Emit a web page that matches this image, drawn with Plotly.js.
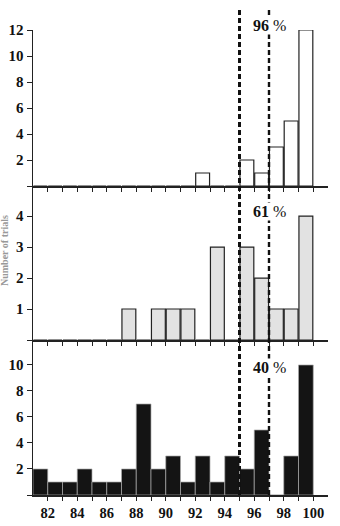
<!DOCTYPE html>
<html>
<head>
<meta charset="utf-8">
<script src="https://cdn.plot.ly/plotly-3.0.1.min.js"></script>
<style>html,body{margin:0;padding:0;background:#fff;}#chart{width:340px;height:526px;}</style>
</head>
<body>
<div id="chart"></div>
<script>
// Histogram bins (lower edge of each 1-unit bin)
const binStart = [81,82,83,84,85,86,87,88,89,90,91,92,93,94,95,96,97,98,99];
// Counts per bin, top / middle / bottom panels
const countsTop    = [0,0,0,0,0,0,0,0,0,0,0,1,0,0,2,1,3,5,12];
const countsMiddle = [0,0,0,0,0,0,1,0,1,1,1,0,3,0,3,2,1,1,4];
const countsBottom = [2,1,1,2,1,1,2,7,2,3,1,3,1,3,2,5,0,3,10];
// Threshold lines and percentage labels
const thresholds = [95, 97];
const pctLabels = ['96', '61', '40'];
// Tick labels
const xTickVals = [82,83,84,85,86,87,88,89,90,91,92,93,94,95,96,97,98,99,100];
const xTickText = ['82','','84','','86','','88','','90','','92','','94','','96','','98','','100'];
const yTopVals = [0,2,4,6,8,10,12];
const yTopText = ['','2','4','6','8','10','12'];
const yMidVals = [0,1,2,3,4];
const yMidText = ['','1','2','3','4'];
const yBotVals = [0,2,4,6,8,10];
const yBotText = ['','2','4','6','8','10'];

const serif = 'Liberation Serif, Times New Roman, serif';
const tickFont = {family: serif, size: 15, color: '#111', weight: 'bold'};

const traces = [
  {type:'bar', x: binStart, y: countsTop, xaxis:'x', yaxis:'y', offset:0.03, width:0.94,
   marker:{color:'#ffffff', line:{color:'#222', width:1.2}}, hoverinfo:'none'},
  {type:'bar', x: binStart, y: countsMiddle, xaxis:'x2', yaxis:'y2', offset:0.03, width:0.94,
   marker:{color:'#e2e2e2', line:{color:'#222', width:1.2}}, hoverinfo:'none'},
  {type:'bar', x: binStart, y: countsBottom, xaxis:'x3', yaxis:'y3', offset:0, width:1,
   marker:{color:'#141414', line:{color:'#aaaaaa', width:0.7}}, hoverinfo:'none'}
];

const xBase = {range:[81,101], showline:true, linecolor:'#222', linewidth:1.5, ticks:'outside',
  ticklen:4, tickcolor:'#222', tickwidth:1, showgrid:false, zeroline:false,
  tickvals: xTickVals, ticktext: xTickText, tickfont: {family: serif, size: 14.5, color:'#111', weight:'bold'}};
const yBase = {showline:true, linecolor:'#222', linewidth:1.5, ticks:'outside', ticklen:5,
  tickcolor:'#222', tickwidth:1, showgrid:false, zeroline:false, tickfont: tickFont};

const plotTop = 30, plotBot = 495, H = plotBot - plotTop;
const py = p => (plotBot - p) / H;

const annotations = [
  {xref:'x', yref:'paper', x: thresholds[1], y: py(25), text:'<b>'+pctLabels[0]+'</b> %'},
  {xref:'x', yref:'paper', x: thresholds[1], y: py(211), text:'<b>'+pctLabels[1]+'</b> %'},
  {xref:'x', yref:'paper', x: thresholds[1], y: py(368), text:'<b>'+pctLabels[2]+'</b> %'}
].map(a => Object.assign(a, {showarrow:false, bgcolor:'#ffffff', borderpad:0,
  font:{family: serif, size:16, color:'#111'}, xanchor:'center', yanchor:'middle'}));

annotations.push({xref:'paper', yref:'paper', x: (5 - 33) / 295, y: py(251), text:'<b>Number of trials</b>',
  textangle:-90, showarrow:false, font:{family: serif, size:10, color:'#999'}, xanchor:'center', yanchor:'middle'});

const shapes = thresholds.map((t, i) => ({type:'line', xref:'x', yref:'paper', x0:t, x1:t,
  y0:0, y1: py(7), line:{color:'#111', width: i === 0 ? 3 : 2.4, dash:'5px,3px'}}));

const layout = {
  width:340, height:526, margin:{l:33, r:12, t:plotTop, b:526 - plotBot},
  paper_bgcolor:'#fff', plot_bgcolor:'#fff', showlegend:false, bargap:0,
  xaxis: Object.assign({}, xBase, {anchor:'y', showticklabels:false}),
  xaxis2: Object.assign({}, xBase, {anchor:'y2', showticklabels:false}),
  xaxis3: Object.assign({}, xBase, {anchor:'y3'}),
  yaxis: Object.assign({}, yBase, {domain:[py(186), 1], range:[0,12], tickvals:yTopVals, ticktext:yTopText, anchor:'x'}),
  yaxis2: Object.assign({}, yBase, {domain:[py(340), py(186)], range:[0,4.97], tickvals:yMidVals, ticktext:yMidText, anchor:'x2'}),
  yaxis3: Object.assign({}, yBase, {domain:[0, py(340)], range:[0,11.92], tickvals:yBotVals, ticktext:yBotText, anchor:'x3'}),
  annotations: annotations, shapes: shapes
};

Plotly.newPlot('chart', traces, layout, {staticPlot:true, displayModeBar:false});
</script>
</body>
</html>
